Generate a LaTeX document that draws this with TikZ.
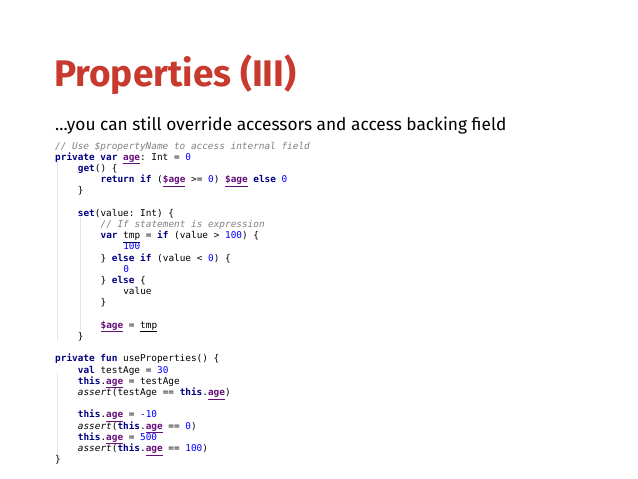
\documentclass[tikz,border=0pt]{standalone}
\usepackage{fontspec}
\setmainfont{Fira Sans}
\setmonofont{DejaVu Sans Mono}
\definecolor{titlered}{HTML}{C83A2E}
\definecolor{kwc}{HTML}{000080}
\definecolor{numc}{HTML}{0000FF}
\definecolor{cmc}{HTML}{808080}
\definecolor{fldc}{HTML}{660E7A}
\newcommand{\kw}[1]{\textcolor{kwc}{\bfseries #1}}
\newcommand{\nm}[1]{\textcolor{numc}{#1}}
\newcommand{\fl}[1]{\textcolor{fldc}{\bfseries\underline{#1}}}
\newcommand{\cm}[1]{\textcolor{cmc}{\itshape #1}}
\tikzset{code/.style={anchor=base west,inner sep=0pt,font=\ttfamily\fontsize{9.4}{11}\selectfont}}
\begin{document}
\begin{tikzpicture}[x=1pt,y=1pt]
\useasboundingbox[fill=white] (0,0) rectangle (638,-479);
\node[anchor=base west,inner sep=0pt,text=titlered,font=\bfseries\fontsize{37}{40}\selectfont] (t) at (54,-86) {Properties (III)};
\node[anchor=base west,inner sep=0pt,font=\fontsize{17.3}{20}\selectfont] (s) at (55,-130) {...you can still override accessors and access backing field};
\draw[black!10,line width=0.8] (57,-162) -- (57,-340);
\draw[black!10,line width=0.8] (80,-218) -- (80,-330);
\draw[black!10,line width=0.8] (57,-373) -- (57,-455);
\def\ind{22.7}
\node[code] (l1) at (55,-149) {\cm{// Use \$propertyName to access internal field}};
\node[code] (l2) at (55,-160.2) {\kw{private var} \fl{age}: Int = \nm{0}};
\node[code] (l3) at (55+\ind,-171.4) {\kw{get}() \{};
\node[code] (l4) at (55+2*\ind,-182.6) {\kw{return if} (\fl{\$age} >= \nm{0}) \fl{\$age} \kw{else} \nm{0}};
\node[code] (l5) at (55+\ind,-193.8) {\}};
\node[code] (l6) at (55+\ind,-216.2) {\kw{set}(value: Int) \{};
\node[code] (l7) at (55+2*\ind,-227.4) {\cm{// If statement is expression}};
\node[code] (l8) at (55+2*\ind,-238.6) {\kw{var} \underline{tmp} = \kw{if} (value > \nm{100}) \{};
\node[code] (l9) at (55+3*\ind,-249.8) {\nm{100}};
\node[code] (l10) at (55+2*\ind,-261) {\} \kw{else if} (value < \nm{0}) \{};
\node[code] (l11) at (55+3*\ind,-272.2) {\nm{0}};
\node[code] (l12) at (55+2*\ind,-283.4) {\} \kw{else} \{};
\node[code] (l13) at (55+3*\ind,-294.6) {value};
\node[code] (l14) at (55+2*\ind,-305.8) {\}};
\node[code] (l15) at (55+2*\ind,-328.2) {\fl{\$age} = \underline{tmp}};
\node[code] (l16) at (55+\ind,-339.4) {\}};
\node[code] (l17) at (55,-361.8) {\kw{private fun} useProperties() \{};
\node[code] (l18) at (55+\ind,-373) {\kw{val} testAge = \nm{30}};
\node[code] (l19) at (55+\ind,-384.2) {\kw{this}.\fl{age} = testAge};
\node[code] (l20) at (55+\ind,-395.4) {\textit{assert}(testAge == \kw{this}.\fl{age})};
\node[code] (l21) at (55+\ind,-417.8) {\kw{this}.\fl{age} = \nm{-10}};
\node[code] (l22) at (55+\ind,-429) {\textit{assert}(\kw{this}.\fl{age} == \nm{0})};
\node[code] (l23) at (55+\ind,-440.2) {\kw{this}.\fl{age} = \nm{500}};
\node[code] (l24) at (55+\ind,-451.4) {\textit{assert}(\kw{this}.\fl{age} == \nm{100})};
\node[code] (l25) at (55,-462.6) {\}};
\end{tikzpicture}
\end{document}
